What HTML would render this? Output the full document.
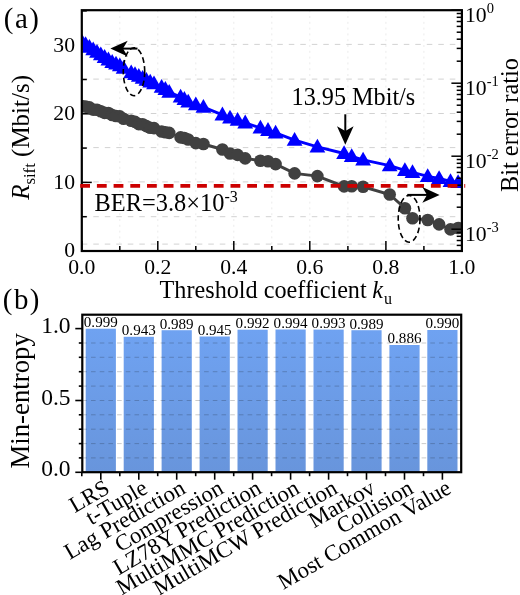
<!DOCTYPE html><html><head><meta charset="utf-8"><title>fig</title><style>html,body{margin:0;padding:0;background:#fff}body{width:520px;height:595px;overflow:hidden}</style></head><body><svg width="520" height="595" viewBox="0 0 520 595" style="display:block;font-family:'Liberation Serif','Times New Roman',serif">
<rect width="520" height="595" fill="#fff"/>
<defs><clipPath id="cp"><rect x="81.8" y="10.2" width="380.1" height="240.8"/></clipPath>
<linearGradient id="bg" x1="0" y1="0" x2="0" y2="1"><stop offset="0" stop-color="#6fa2f1"/><stop offset="1" stop-color="#6895dc"/></linearGradient></defs>
<g stroke="#202020" stroke-opacity="0.2" stroke-width="1" stroke-dasharray="5.5 6" fill="none"><line x1="81.8" x2="461.9" y1="44.4" y2="44.4"/><line x1="81.8" x2="461.9" y1="79.1" y2="79.1"/><line x1="81.8" x2="461.9" y1="113.5" y2="113.5"/><line x1="81.8" x2="461.9" y1="147.6" y2="147.6"/><line x1="81.8" x2="461.9" y1="181.9" y2="181.9"/><line x1="81.8" x2="461.9" y1="216.7" y2="216.7"/><line x1="81.8" x2="461.9" y1="244.1" y2="244.1"/></g>
<g stroke="#ebebeb" stroke-width="1" stroke-dasharray="2 3.8" fill="none"><line x1="119.8" x2="119.8" y1="10.2" y2="251.0"/><line x1="157.8" x2="157.8" y1="10.2" y2="251.0"/><line x1="195.8" x2="195.8" y1="10.2" y2="251.0"/><line x1="233.8" x2="233.8" y1="10.2" y2="251.0"/><line x1="271.8" x2="271.8" y1="10.2" y2="251.0"/><line x1="309.8" x2="309.8" y1="10.2" y2="251.0"/><line x1="347.9" x2="347.9" y1="10.2" y2="251.0"/><line x1="385.9" x2="385.9" y1="10.2" y2="251.0"/><line x1="423.9" x2="423.9" y1="10.2" y2="251.0"/></g>
<g stroke="#000" stroke-width="1.5"><line x1="81.8" x2="81.8" y1="251.0" y2="241.0"/><line x1="119.8" x2="119.8" y1="251.0" y2="246.0"/><line x1="157.8" x2="157.8" y1="251.0" y2="241.0"/><line x1="195.8" x2="195.8" y1="251.0" y2="246.0"/><line x1="233.8" x2="233.8" y1="251.0" y2="241.0"/><line x1="271.8" x2="271.8" y1="251.0" y2="246.0"/><line x1="309.8" x2="309.8" y1="251.0" y2="241.0"/><line x1="347.9" x2="347.9" y1="251.0" y2="246.0"/><line x1="385.9" x2="385.9" y1="251.0" y2="241.0"/><line x1="423.9" x2="423.9" y1="251.0" y2="246.0"/><line x1="461.9" x2="461.9" y1="251.0" y2="241.0"/><line x1="81.8" x2="91.8" y1="251.0" y2="251.0"/><line x1="81.8" x2="86.8" y1="216.7" y2="216.7"/><line x1="81.8" x2="91.8" y1="182.4" y2="182.4"/><line x1="81.8" x2="86.8" y1="148.1" y2="148.1"/><line x1="81.8" x2="91.8" y1="113.8" y2="113.8"/><line x1="81.8" x2="86.8" y1="79.5" y2="79.5"/><line x1="81.8" x2="91.8" y1="45.2" y2="45.2"/><line x1="81.8" x2="86.8" y1="10.9" y2="10.9"/></g>
<g clip-path="url(#cp)">
<polyline fill="none" stroke="#404040" stroke-width="3" points="81.8,106.0 85.6,106.6 89.4,107.4 93.2,109.6 97.0,109.7 100.8,111.2 104.6,112.9 108.4,113.0 112.2,115.0 116.0,116.0 119.8,116.4 123.6,118.8 131.2,120.7 135.0,121.9 138.8,124.1 142.6,124.3 146.4,126.1 150.2,127.8 154.0,128.1 161.6,131.5 165.4,132.3 169.2,132.9 180.6,137.4 184.4,138.0 188.2,139.5 195.8,143.1 203.4,144.0 222.4,149.5 230.0,153.5 237.6,154.9 245.2,158.4 260.4,160.8 268.0,161.3 275.6,164.1 294.6,173.4 317.4,176.1 344.1,186.4 351.7,186.3 363.1,186.7 389.7,194.5 404.9,208.2 412.5,218.2 427.7,220.0 439.1,224.4 450.5,229.4 458.1,228.0"/>
<g fill="#404040"><circle cx="81.8" cy="106.0" r="6.3"/><circle cx="85.6" cy="106.6" r="6.3"/><circle cx="89.4" cy="107.4" r="6.3"/><circle cx="93.2" cy="109.6" r="6.3"/><circle cx="97.0" cy="109.7" r="6.3"/><circle cx="100.8" cy="111.2" r="6.3"/><circle cx="104.6" cy="112.9" r="6.3"/><circle cx="108.4" cy="113.0" r="6.3"/><circle cx="112.2" cy="115.0" r="6.3"/><circle cx="116.0" cy="116.0" r="6.3"/><circle cx="119.8" cy="116.4" r="6.3"/><circle cx="123.6" cy="118.8" r="6.3"/><circle cx="131.2" cy="120.7" r="6.3"/><circle cx="135.0" cy="121.9" r="6.3"/><circle cx="138.8" cy="124.1" r="6.3"/><circle cx="142.6" cy="124.3" r="6.3"/><circle cx="146.4" cy="126.1" r="6.3"/><circle cx="150.2" cy="127.8" r="6.3"/><circle cx="154.0" cy="128.1" r="6.3"/><circle cx="161.6" cy="131.5" r="6.3"/><circle cx="165.4" cy="132.3" r="6.3"/><circle cx="169.2" cy="132.9" r="6.3"/><circle cx="180.6" cy="137.4" r="6.3"/><circle cx="184.4" cy="138.0" r="6.3"/><circle cx="188.2" cy="139.5" r="6.3"/><circle cx="195.8" cy="143.1" r="6.3"/><circle cx="203.4" cy="144.0" r="6.3"/><circle cx="222.4" cy="149.5" r="6.3"/><circle cx="230.0" cy="153.5" r="6.3"/><circle cx="237.6" cy="154.9" r="6.3"/><circle cx="245.2" cy="158.4" r="6.3"/><circle cx="260.4" cy="160.8" r="6.3"/><circle cx="268.0" cy="161.3" r="6.3"/><circle cx="275.6" cy="164.1" r="6.3"/><circle cx="294.6" cy="173.4" r="6.3"/><circle cx="317.4" cy="176.1" r="6.3"/><circle cx="344.1" cy="186.4" r="6.3"/><circle cx="351.7" cy="186.3" r="6.3"/><circle cx="363.1" cy="186.7" r="6.3"/><circle cx="389.7" cy="194.5" r="6.3"/><circle cx="404.9" cy="208.2" r="6.3"/><circle cx="412.5" cy="218.2" r="6.3"/><circle cx="427.7" cy="220.0" r="6.3"/><circle cx="439.1" cy="224.4" r="6.3"/><circle cx="450.5" cy="229.4" r="6.3"/><circle cx="458.1" cy="228.0" r="6.3"/></g>
<polyline fill="none" stroke="#0000ff" stroke-width="2.9" stroke-linejoin="round" points="81.8,41.7 85.6,44.4 89.4,47.2 93.2,49.7 97.0,52.1 100.8,54.7 104.6,57.3 108.4,59.8 112.2,62.3 116.0,64.0 119.8,65.7 123.6,68.2 131.2,72.6 135.0,74.4 138.8,76.2 142.6,78.1 146.4,80.1 150.2,82.0 154.0,83.7 161.6,87.1 165.4,89.3 169.2,92.1 180.6,97.0 184.4,99.3 188.2,101.9 195.8,104.7 203.4,107.2 222.4,114.8 230.0,118.0 237.6,120.2 245.2,122.8 260.4,128.0 268.0,130.3 275.6,132.9 294.6,140.1 317.4,146.9 344.1,153.5 351.7,156.5 363.1,159.9 389.7,165.7 404.9,170.4 412.5,172.4 427.7,176.4 439.1,178.4 450.5,181.5 458.1,182.5"/>
<g fill="#0000ff"><path d="M81.8 33.5L89.7 47.3L73.8 47.3Z"/><path d="M85.6 36.2L93.5 50.0L77.7 50.0Z"/><path d="M89.4 39.0L97.3 52.8L81.5 52.8Z"/><path d="M93.2 41.5L101.1 55.3L85.3 55.3Z"/><path d="M97.0 43.9L104.9 57.7L89.1 57.7Z"/><path d="M100.8 46.5L108.7 60.3L92.9 60.3Z"/><path d="M104.6 49.1L112.5 62.9L96.7 62.9Z"/><path d="M108.4 51.6L116.3 65.4L100.5 65.4Z"/><path d="M112.2 54.1L120.1 67.9L104.3 67.9Z"/><path d="M116.0 55.8L123.9 69.6L108.1 69.6Z"/><path d="M119.8 57.5L127.7 71.3L111.9 71.3Z"/><path d="M123.6 60.0L131.5 73.8L115.7 73.8Z"/><path d="M131.2 64.4L139.1 78.2L123.3 78.2Z"/><path d="M135.0 66.2L142.9 80.0L127.1 80.0Z"/><path d="M138.8 68.0L146.7 81.8L130.9 81.8Z"/><path d="M142.6 69.9L150.5 83.7L134.7 83.7Z"/><path d="M146.4 71.9L154.3 85.7L138.5 85.7Z"/><path d="M150.2 73.8L158.1 87.6L142.3 87.6Z"/><path d="M154.0 75.5L161.9 89.3L146.1 89.3Z"/><path d="M161.6 78.9L169.5 92.7L153.7 92.7Z"/><path d="M165.4 81.1L173.3 94.9L157.5 94.9Z"/><path d="M169.2 83.9L177.1 97.7L161.3 97.7Z"/><path d="M180.6 88.8L188.5 102.6L172.7 102.6Z"/><path d="M184.4 91.1L192.3 104.9L176.5 104.9Z"/><path d="M188.2 93.7L196.1 107.5L180.3 107.5Z"/><path d="M195.8 96.5L203.7 110.3L187.9 110.3Z"/><path d="M203.4 99.0L211.3 112.8L195.5 112.8Z"/><path d="M222.4 106.6L230.3 120.4L214.5 120.4Z"/><path d="M230.0 109.8L237.9 123.6L222.1 123.6Z"/><path d="M237.6 112.0L245.5 125.8L229.7 125.8Z"/><path d="M245.2 114.6L253.1 128.4L237.3 128.4Z"/><path d="M260.4 119.8L268.3 133.6L252.5 133.6Z"/><path d="M268.0 122.1L275.9 135.9L260.1 135.9Z"/><path d="M275.6 124.7L283.5 138.5L267.7 138.5Z"/><path d="M294.6 131.9L302.5 145.7L286.7 145.7Z"/><path d="M317.4 138.7L325.3 152.5L309.5 152.5Z"/><path d="M344.1 145.3L352.0 159.1L336.2 159.1Z"/><path d="M351.7 148.3L359.6 162.1L343.8 162.1Z"/><path d="M363.1 151.7L371.0 165.5L355.2 165.5Z"/><path d="M389.7 157.5L397.6 171.3L381.8 171.3Z"/><path d="M404.9 162.2L412.8 176.0L397.0 176.0Z"/><path d="M412.5 164.2L420.4 178.0L404.6 178.0Z"/><path d="M427.7 168.2L435.6 182.0L419.8 182.0Z"/><path d="M439.1 170.2L447.0 184.0L431.2 184.0Z"/><path d="M450.5 173.3L458.4 187.1L442.6 187.1Z"/><path d="M458.1 174.3L466.0 188.1L450.2 188.1Z"/></g>
</g>
<g stroke="#000" stroke-width="1.5"><line x1="461.9" x2="451.4" y1="10.2" y2="10.2"/><line x1="461.9" x2="456.7" y1="61.2" y2="61.2"/><line x1="461.9" x2="456.7" y1="48.4" y2="48.4"/><line x1="461.9" x2="456.7" y1="39.2" y2="39.2"/><line x1="461.9" x2="456.7" y1="32.2" y2="32.2"/><line x1="461.9" x2="456.7" y1="26.4" y2="26.4"/><line x1="461.9" x2="456.7" y1="21.5" y2="21.5"/><line x1="461.9" x2="456.7" y1="17.3" y2="17.3"/><line x1="461.9" x2="456.7" y1="13.5" y2="13.5"/><line x1="461.9" x2="451.4" y1="83.2" y2="83.2"/><line x1="461.9" x2="456.7" y1="134.2" y2="134.2"/><line x1="461.9" x2="456.7" y1="121.4" y2="121.4"/><line x1="461.9" x2="456.7" y1="112.2" y2="112.2"/><line x1="461.9" x2="456.7" y1="105.2" y2="105.2"/><line x1="461.9" x2="456.7" y1="99.4" y2="99.4"/><line x1="461.9" x2="456.7" y1="94.5" y2="94.5"/><line x1="461.9" x2="456.7" y1="90.3" y2="90.3"/><line x1="461.9" x2="456.7" y1="86.5" y2="86.5"/><line x1="461.9" x2="451.4" y1="156.2" y2="156.2"/><line x1="461.9" x2="456.7" y1="207.2" y2="207.2"/><line x1="461.9" x2="456.7" y1="194.4" y2="194.4"/><line x1="461.9" x2="456.7" y1="185.2" y2="185.2"/><line x1="461.9" x2="456.7" y1="178.2" y2="178.2"/><line x1="461.9" x2="456.7" y1="172.4" y2="172.4"/><line x1="461.9" x2="456.7" y1="167.5" y2="167.5"/><line x1="461.9" x2="456.7" y1="163.3" y2="163.3"/><line x1="461.9" x2="456.7" y1="159.5" y2="159.5"/><line x1="461.9" x2="451.4" y1="229.2" y2="229.2"/><line x1="461.9" x2="456.7" y1="245.4" y2="245.4"/><line x1="461.9" x2="456.7" y1="240.5" y2="240.5"/><line x1="461.9" x2="456.7" y1="236.3" y2="236.3"/><line x1="461.9" x2="456.7" y1="232.5" y2="232.5"/></g>
<rect x="81.8" y="10.2" width="380.1" height="240.8" fill="none" stroke="#000" stroke-width="2.2"/>
<line x1="80.2" x2="465.2" y1="185.9" y2="185.9" stroke="#cc0000" stroke-width="3.9" stroke-dasharray="9.8 6.9"/>
<ellipse cx="134.0" cy="71.7" rx="10.7" ry="24" fill="none" stroke="#000" stroke-width="1.6" stroke-dasharray="5.5 3.4"/>
<ellipse cx="409.1" cy="218.8" rx="10.9" ry="23.4" fill="none" stroke="#000" stroke-width="1.6" stroke-dasharray="5.5 3.4"/>
<path d="M137.5 48.6L123.0 48.6" stroke="#000" stroke-width="2.0" fill="none"/><path d="M110.4 48.6L127.7 40.8L123.0 48.6L127.7 56.4Z" fill="#000"/>
<path d="M407.3 194.9L427.0 194.9" stroke="#000" stroke-width="2.0" fill="none"/><path d="M439.6 194.9L422.3 202.7L427.0 194.9L422.3 187.1Z" fill="#000"/>
<path d="M345.3 114.3L345.3 131.0" stroke="#000" stroke-width="2.0" fill="none"/><path d="M345.3 144.8L337.0 126.3L345.3 131.0L353.6 126.3Z" fill="#000"/>
<g font-size="21.7px" fill="#000">
<text x="75" y="257.3" text-anchor="end">0</text>
<text x="75" y="188.7" text-anchor="end">10</text>
<text x="75" y="120.1" text-anchor="end">20</text>
<text x="75" y="51.5" text-anchor="end">30</text>
<text x="81.8" y="274.2" text-anchor="middle">0.0</text>
<text x="157.8" y="274.2" text-anchor="middle">0.2</text>
<text x="233.8" y="274.2" text-anchor="middle">0.4</text>
<text x="309.8" y="274.2" text-anchor="middle">0.6</text>
<text x="385.9" y="274.2" text-anchor="middle">0.8</text>
<text x="461.9" y="274.2" text-anchor="middle">1.0</text>
<text x="465" y="22.2">10<tspan font-size="14.5px" dy="-9">0</tspan></text>
<text x="465" y="95.2">10<tspan font-size="14.5px" dy="-9">-1</tspan></text>
<text x="465" y="168.2">10<tspan font-size="14.5px" dy="-9">-2</tspan></text>
<text x="465" y="241.2">10<tspan font-size="14.5px" dy="-9">-3</tspan></text>
</g>
<text x="291.6" y="105.4" font-size="24.2px">13.95 Mbit/s</text>
<text x="94.6" y="210.8" font-size="24.4px">BER=3.8×10<tspan font-size="16px" dy="-9.2">-3</tspan></text>
<text x="159.6" y="297.8" font-size="24.2px">Threshold coefficient <tspan font-style="italic" x="372.3">k</tspan><tspan font-size="16px" x="384" dy="6.2">u</tspan></text>
<text transform="translate(29.4,199.8) rotate(-90)" font-size="25px"><tspan font-style="italic">R</tspan><tspan font-size="16.7px" dy="5.6">sift</tspan><tspan dy="-5.6"> (Mbit/s)</tspan></text>
<text transform="translate(517.5,58) rotate(-90)" text-anchor="end" font-size="24.4px">Bit error ratio</text>
<text x="3.8" y="27.7" font-size="28.9px" letter-spacing="1.5">(a)</text>
<text x="2.8" y="308.8" font-size="28.9px" letter-spacing="1.5">(b)</text>
<rect x="85.7" y="328.7" width="30.2" height="143.5" fill="url(#bg)"/>
<rect x="123.7" y="336.8" width="30.2" height="135.4" fill="url(#bg)"/>
<rect x="161.6" y="330.2" width="30.2" height="142.0" fill="url(#bg)"/>
<rect x="199.6" y="336.5" width="30.2" height="135.7" fill="url(#bg)"/>
<rect x="237.5" y="329.7" width="30.2" height="142.5" fill="url(#bg)"/>
<rect x="275.5" y="329.5" width="30.2" height="142.7" fill="url(#bg)"/>
<rect x="313.5" y="329.6" width="30.2" height="142.6" fill="url(#bg)"/>
<rect x="351.4" y="330.2" width="30.2" height="142.0" fill="url(#bg)"/>
<rect x="389.4" y="345.0" width="30.2" height="127.2" fill="url(#bg)"/>
<rect x="427.3" y="330.0" width="30.2" height="142.2" fill="url(#bg)"/>
<g stroke="#101010" stroke-opacity="0.22" stroke-width="1" stroke-dasharray="4.6 4.1" fill="none"><line x1="82.3" x2="461.2" y1="457.9" y2="457.9"/><line x1="82.3" x2="461.2" y1="443.6" y2="443.6"/><line x1="82.3" x2="461.2" y1="429.2" y2="429.2"/><line x1="82.3" x2="461.2" y1="414.8" y2="414.8"/><line x1="82.3" x2="461.2" y1="400.5" y2="400.5"/><line x1="82.3" x2="461.2" y1="386.1" y2="386.1"/><line x1="82.3" x2="461.2" y1="371.7" y2="371.7"/><line x1="82.3" x2="461.2" y1="357.3" y2="357.3"/><line x1="82.3" x2="461.2" y1="343.0" y2="343.0"/></g>
<rect x="82.3" y="314.7" width="378.9" height="157.5" fill="none" stroke="#000" stroke-width="2.2"/>
<g stroke="#000" stroke-width="1.6"><line x1="82.3" x2="75.3" y1="472.3" y2="472.3"/><line x1="82.3" x2="78.8" y1="457.9" y2="457.9"/><line x1="82.3" x2="78.8" y1="443.6" y2="443.6"/><line x1="82.3" x2="78.8" y1="429.2" y2="429.2"/><line x1="82.3" x2="78.8" y1="414.8" y2="414.8"/><line x1="82.3" x2="75.3" y1="400.5" y2="400.5"/><line x1="82.3" x2="78.8" y1="386.1" y2="386.1"/><line x1="82.3" x2="78.8" y1="371.7" y2="371.7"/><line x1="82.3" x2="78.8" y1="357.3" y2="357.3"/><line x1="82.3" x2="78.8" y1="343.0" y2="343.0"/><line x1="82.3" x2="75.3" y1="328.6" y2="328.6"/><line x1="100.8" x2="100.8" y1="472.2" y2="479.7"/><line x1="81.8" x2="81.8" y1="472.2" y2="476.2"/><line x1="138.8" x2="138.8" y1="472.2" y2="479.7"/><line x1="119.8" x2="119.8" y1="472.2" y2="476.2"/><line x1="176.7" x2="176.7" y1="472.2" y2="479.7"/><line x1="157.7" x2="157.7" y1="472.2" y2="476.2"/><line x1="214.7" x2="214.7" y1="472.2" y2="479.7"/><line x1="195.7" x2="195.7" y1="472.2" y2="476.2"/><line x1="252.6" x2="252.6" y1="472.2" y2="479.7"/><line x1="233.7" x2="233.7" y1="472.2" y2="476.2"/><line x1="290.6" x2="290.6" y1="472.2" y2="479.7"/><line x1="271.6" x2="271.6" y1="472.2" y2="476.2"/><line x1="328.6" x2="328.6" y1="472.2" y2="479.7"/><line x1="309.6" x2="309.6" y1="472.2" y2="476.2"/><line x1="366.5" x2="366.5" y1="472.2" y2="479.7"/><line x1="347.5" x2="347.5" y1="472.2" y2="476.2"/><line x1="404.5" x2="404.5" y1="472.2" y2="479.7"/><line x1="385.5" x2="385.5" y1="472.2" y2="476.2"/><line x1="442.4" x2="442.4" y1="472.2" y2="479.7"/><line x1="423.5" x2="423.5" y1="472.2" y2="476.2"/></g>
<g font-size="15.1px" text-anchor="middle">
<text x="100.8" y="327.0">0.999</text>
<text x="138.8" y="335.1">0.943</text>
<text x="176.7" y="328.5">0.989</text>
<text x="214.7" y="334.8">0.945</text>
<text x="252.6" y="328.0">0.992</text>
<text x="290.6" y="327.8">0.994</text>
<text x="328.6" y="327.9">0.993</text>
<text x="366.5" y="328.5">0.989</text>
<text x="404.5" y="343.3">0.886</text>
<text x="442.4" y="328.3">0.990</text>
</g>
<g font-size="23.5px" text-anchor="end">
<text x="70.6" y="476.3">0.0</text>
<text x="70.6" y="404.5">0.5</text>
<text x="70.6" y="332.6">1.0</text>
<text transform="translate(111.0,492.2) rotate(-30)" font-size="22.9px">LRS</text>
<text transform="translate(149.0,492.2) rotate(-30)" font-size="22.9px">t-Tuple</text>
<text transform="translate(186.9,492.2) rotate(-30)" font-size="22.9px">Lag Prediction</text>
<text transform="translate(224.9,492.2) rotate(-30)" font-size="22.9px">Compression</text>
<text transform="translate(262.8,492.2) rotate(-30)" font-size="22.9px">LZ78Y Prediction</text>
<text transform="translate(300.8,492.2) rotate(-30)" font-size="22.9px">MultiMMC Prediction</text>
<text transform="translate(338.8,492.2) rotate(-30)" font-size="22.9px">MultiMCW Prediction</text>
<text transform="translate(376.7,492.2) rotate(-30)" font-size="22.9px">Markov</text>
<text transform="translate(414.7,492.2) rotate(-30)" font-size="22.9px">Collision</text>
<text transform="translate(452.6,492.2) rotate(-30)" font-size="22.9px">Most Common Value</text>
</g>
<text transform="translate(28.8,468.6) rotate(-90)" font-size="26.8px">Min-entropy</text>
</svg></body></html>
